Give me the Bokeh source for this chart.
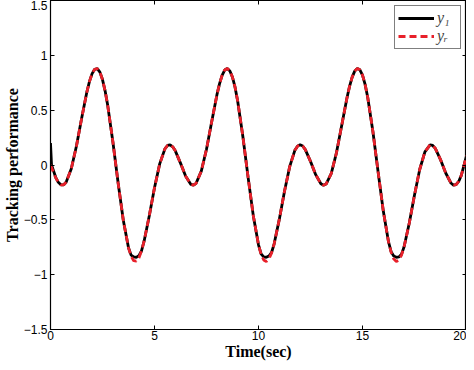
from bokeh.plotting import figure
from bokeh.embed import file_html
from bokeh.resources import INLINE
from bokeh.models import LinearAxis, FixedTicker, Range1d, Legend, LegendItem

# time samples (sec), regular grid
t = [0.0, 0.25, 0.5, 0.75, 1.0, 1.25, 1.5, 1.75, 2.0, 2.25, 2.5, 2.75, 3.0, 3.25, 3.5, 3.75,
     4.0, 4.25, 4.5, 4.75, 5.0, 5.25, 5.5, 5.75, 6.0, 6.25, 6.5, 6.75, 7.0, 7.25, 7.5, 7.75,
     8.0, 8.25, 8.5, 8.75, 9.0, 9.25, 9.5, 9.75, 10.0, 10.25, 10.5, 10.75, 11.0, 11.25, 11.5, 11.75,
     12.0, 12.25, 12.5, 12.75, 13.0, 13.25, 13.5, 13.75, 14.0, 14.25, 14.5, 14.75, 15.0, 15.25, 15.5, 15.75,
     16.0, 16.25, 16.5, 16.75, 17.0, 17.25, 17.5, 17.75, 18.0, 18.25, 18.5, 18.75, 19.0, 19.25, 19.5, 19.75, 20.0]

# reference signal y_r on the regular grid
yr = [0.0, -0.116, -0.181, -0.158, -0.034, 0.175, 0.428, 0.667, 0.833, 0.878, 0.779, 0.544, 0.210, -0.162, -0.504, -0.755,
      -0.873, -0.847, -0.695, -0.462, -0.207, 0.010, 0.147, 0.184, 0.129, 0.017, -0.103, -0.177, -0.167, -0.056, 0.144, 0.394,
      0.639, 0.817, 0.880, 0.800, 0.582, 0.258, -0.113, -0.462, -0.728, -0.866, -0.858, -0.721, -0.496, -0.240, -0.015, 0.135,
      0.185, 0.140, 0.033, -0.088, -0.171, -0.174, -0.076, 0.113, 0.360, 0.609, 0.799, 0.880, 0.819, 0.618, 0.305, -0.063,
      -0.420, -0.700, -0.856, -0.867, -0.745, -0.529, -0.274, -0.041, 0.120, 0.184, 0.151, 0.049, -0.073, -0.164, -0.179, -0.095, 0.084]

# output y_1 on the regular grid
y1 = [0.2, -0.112, -0.180, -0.158, -0.034, 0.175, 0.428, 0.667, 0.833, 0.878, 0.779, 0.544, 0.210, -0.162, -0.504, -0.755,
      -0.838, -0.826, -0.695, -0.462, -0.207, 0.010, 0.147, 0.184, 0.129, 0.017, -0.103, -0.177, -0.167, -0.056, 0.144, 0.394,
      0.639, 0.817, 0.880, 0.800, 0.582, 0.258, -0.113, -0.462, -0.728, -0.838, -0.830, -0.721, -0.496, -0.240, -0.015, 0.135,
      0.185, 0.140, 0.033, -0.088, -0.171, -0.174, -0.076, 0.113, 0.360, 0.609, 0.799, 0.880, 0.819, 0.618, 0.305, -0.063,
      -0.420, -0.700, -0.830, -0.838, -0.745, -0.529, -0.274, -0.041, 0.120, 0.184, 0.151, 0.049, -0.073, -0.164, -0.179, -0.095, 0.084]

# extra readings around the turning points
t_extra = [0.375, 0.625, 1.875, 2.125, 2.375, 2.625, 3.875, 4.125, 4.375, 5.625, 5.875, 6.875,
           8.125, 8.375, 8.625, 8.875, 10.125, 10.375, 10.625, 11.875, 12.125, 13.125,
           14.375, 14.625, 14.875, 15.125, 16.375, 16.625, 16.875, 18.375, 19.375, 19.625]
yr_extra = [-0.158, -0.182, 0.763, 0.873, 0.847, 0.676, -0.832, -0.877, -0.784, 0.178, 0.166, -0.184,
            0.740, 0.866, 0.858, 0.707, -0.815, -0.880, -0.804, 0.172, 0.173, -0.184,
            0.715, 0.856, 0.868, 0.735, -0.795, -0.880, -0.821, 0.178, -0.183, -0.150]
t1_extra = [0.05] + t_extra
y1_extra = [0.0, -0.158, -0.182, 0.763, 0.873, 0.847, 0.676, -0.822, -0.842, -0.784, 0.178, 0.166, -0.184,
            0.740, 0.866, 0.858, 0.707, -0.810, -0.842, -0.800, 0.172, 0.173, -0.184,
            0.715, 0.856, 0.868, 0.735, -0.790, -0.842, -0.815, 0.178, -0.183, -0.150]

x_ticks = [0, 5, 10, 15, 20]
y_ticks = [-1.5, -1, -0.5, 0, 0.5, 1, 1.5]
x_label = "Time(sec)"
y_label = "Tracking performance"
names = ["y\u2081", "y\u1d63"]


def merged(ta, ya, tb, yb):
    pairs = sorted(zip(ta + tb, ya + yb))
    return [a for a, _ in pairs], [b for _, b in pairs]


tr_all, yr_all = merged(t, yr, t_extra, yr_extra)
t1_all, y1_all = merged(t, y1, t1_extra, y1_extra)

p = figure(width=466, height=362, output_backend="svg", toolbar_location=None,
           x_range=Range1d(0, 20), y_range=Range1d(-1.5, 1.5),
           min_border_left=0, min_border_right=0, min_border_top=0, min_border_bottom=0)
p.xgrid.visible = False
p.ygrid.visible = False
p.outline_line_color = "black"
p.outline_line_width = 1.2
p.background_fill_color = "white"
p.border_fill_color = "white"

r1 = p.line(t1_all, y1_all, line_color="black", line_width=2.8)
r2 = p.line(tr_all, yr_all, line_color="#e8202a", line_width=2.8, line_dash="7 4")

tick_font = "Liberation Sans"
for ax in [p.xaxis[0], p.yaxis[0]]:
    ax.major_tick_in = 4
    ax.major_tick_out = 0
    ax.minor_tick_line_color = None
    ax.axis_line_color = "black"
    ax.major_label_text_font = tick_font
    ax.major_label_text_font_size = "12px"
    ax.major_label_text_color = "black"
    ax.axis_label_text_font = "Liberation Serif"
    ax.axis_label_text_font_style = "bold"
    ax.axis_label_text_font_size = "16px"
    ax.axis_label_text_color = "black"

p.xaxis[0].ticker = FixedTicker(ticks=x_ticks)
p.yaxis[0].ticker = FixedTicker(ticks=y_ticks)
p.yaxis[0].major_label_overrides = {-1.5: "\u22121.5", -1: "\u22121", -0.5: "\u22120.5", 0: "0",
                                    0.5: "0.5", 1: "1", 1.5: "1.5"}
p.xaxis[0].axis_label = x_label
p.yaxis[0].axis_label = y_label
p.xaxis[0].major_label_standoff = 1
p.yaxis[0].major_label_standoff = 3
p.xaxis[0].axis_label_standoff = 0
p.yaxis[0].axis_label_standoff = 0

top = LinearAxis(ticker=FixedTicker(ticks=x_ticks),
                 major_label_overrides={v: "" for v in x_ticks},
                 major_label_standoff=0, major_label_text_font_size="1px",
                 major_tick_in=4, major_tick_out=0, minor_tick_line_color=None)
right = LinearAxis(ticker=FixedTicker(ticks=y_ticks),
                   major_label_overrides={v: "" for v in y_ticks},
                   major_label_standoff=0, major_label_text_font_size="1px",
                   major_tick_in=4, major_tick_out=0, minor_tick_line_color=None)
p.add_layout(top, "above")
p.add_layout(right, "right")

legend = Legend(items=[LegendItem(label=names[0], renderers=[r1]),
                       LegendItem(label=names[1], renderers=[r2])],
                location="top_right")
legend.label_text_font = "Liberation Serif"
legend.label_text_font_style = "italic"
legend.label_text_font_size = "16px"
legend.label_text_line_height = 0.8
legend.border_line_color = "black"
legend.border_line_width = 1
legend.padding = 3
legend.spacing = 0
legend.margin = 5
legend.glyph_width = 36
legend.glyph_height = 12
legend.label_standoff = 3
legend.label_height = 12
p.add_layout(legend)

open("out.html", "w").write(file_html(p, INLINE))
